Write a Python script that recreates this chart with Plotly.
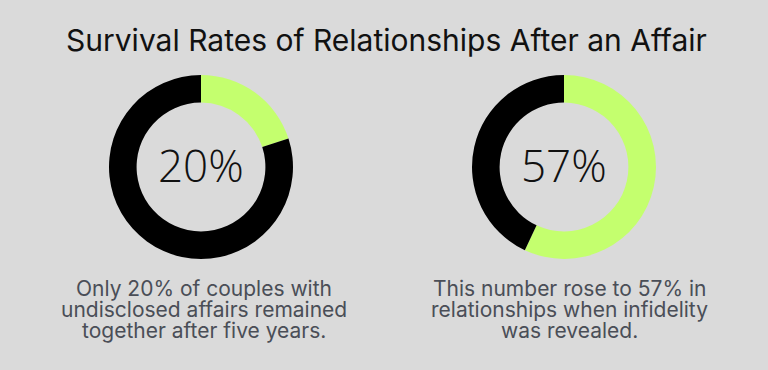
import plotly.graph_objects as go

title = "Survival Rates of Relationships After an Affair"
labels = ["Survived", "Other"]
pct_left = [20, 80]
pct_right = [57, 43]
center_texts = ["20%", "57%"]
captions = [
    ["Only 20% of couples with", "undisclosed affairs remained", "together after five years."],
    ["This number rose to 57% in", "relationships when infidelity", "was revealed."],
]

W, H = 768, 370
GREEN = "#c4ff6e"
BLACK = "#000000"
BG = "#dadada"

def dom(cx, cy, r):
    return dict(x=[(cx - r) / W, (cx + r) / W], y=[1 - (cy + r) / H, 1 - (cy - r) / H])

centers = [(201, 167), (564, 167)]
caption_x = [204, 569]
R = 92

fig = go.Figure()
for vals, (cx, cy) in zip([pct_left, pct_right], centers):
    fig.add_trace(go.Pie(
        values=vals, labels=labels, sort=False, direction="clockwise", rotation=0,
        hole=0.7, marker=dict(colors=[GREEN, BLACK], line=dict(width=0)),
        textinfo="none", hoverinfo="none", showlegend=False, domain=dom(cx, cy, R),
    ))

ann = []
ann.append(dict(text=title, x=386 / W, y=1 - 40 / H, xref="paper", yref="paper",
                showarrow=False, xanchor="center", yanchor="middle",
                font=dict(family="Inter", size=30, color="#111111")))
for t, (cx, cy) in zip(center_texts, centers):
    ann.append(dict(text=t, x=cx / W, y=1 - (cy - 2) / H, xref="paper", yref="paper",
                    showarrow=False, xanchor="center", yanchor="middle",
                    font=dict(family="Open Sans", size=44, color="#111111", weight=300)))
for lines, x0 in zip(captions, caption_x):
    for i, ln in enumerate(lines):
        ann.append(dict(text=ln, x=x0 / W, y=1 - (288 + 21 * i) / H, xref="paper", yref="paper",
                        showarrow=False, xanchor="center", yanchor="middle",
                        font=dict(family="Inter", size=21, color="#4a4e57")))

fig.update_layout(width=W, height=H, margin=dict(l=0, r=0, t=0, b=0),
                  paper_bgcolor=BG, plot_bgcolor=BG, annotations=ann)
fig.write_html("out.html")
